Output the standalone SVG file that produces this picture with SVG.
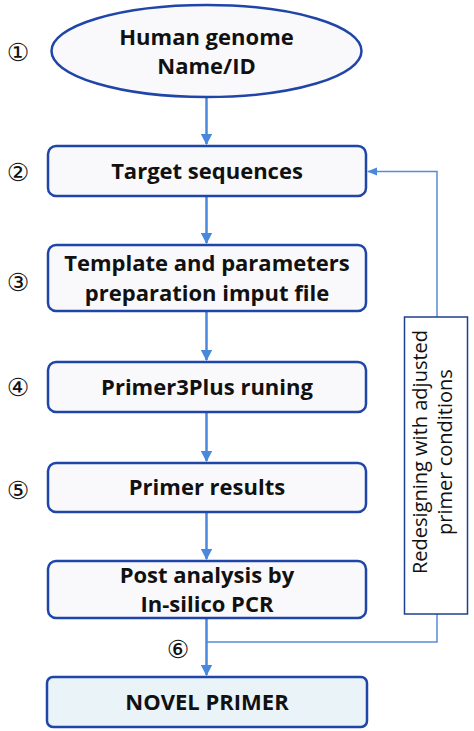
<svg xmlns="http://www.w3.org/2000/svg" width="474" height="731" viewBox="0 0 474 731">
<defs>
<style>
.box{fill:#f9f9fb;stroke:#1f45a8;stroke-width:2.5}
.lbl{font-family:"Open Sans","Noto Sans",sans-serif;font-weight:bold;font-size:22px;fill:#111;text-anchor:middle}
.num{font-family:"DejaVu Sans",sans-serif;font-size:25px;fill:#111;text-anchor:middle}
.arr{stroke:#4a88dd;stroke-width:2.5;fill:none}
.fb{stroke:#5a8ad8;stroke-width:1.5;fill:none}
.side{font-family:"Open Sans","Noto Sans",sans-serif;font-size:20px;fill:#111;text-anchor:middle}
</style>
<marker id="ah" viewBox="0 0 10 10" refX="9" refY="5" markerWidth="4.5" markerHeight="4.5" orient="auto">
<path d="M0,0 L10,5 L0,10 z" fill="#4a88dd"/>
</marker>
<marker id="ah2" viewBox="0 0 10 10" refX="9" refY="5" markerWidth="7" markerHeight="7" orient="auto">
<path d="M0,1 L10,5 L0,9 z" fill="#4a88dd"/>
</marker>
</defs>
<rect width="474" height="731" fill="#fff"/>
<g id="connectors">
<line class="arr" x1="206.5" y1="97" x2="206.5" y2="144" marker-end="url(#ah)"/>
<line class="arr" x1="206.5" y1="196" x2="206.5" y2="243" marker-end="url(#ah)"/>
<line class="arr" x1="206.5" y1="311" x2="206.5" y2="360" marker-end="url(#ah)"/>
<line class="arr" x1="206.5" y1="412" x2="206.5" y2="461" marker-end="url(#ah)"/>
<line class="arr" x1="206.5" y1="512" x2="206.5" y2="559" marker-end="url(#ah)"/>
<line class="arr" x1="206.5" y1="618" x2="206.5" y2="675" marker-end="url(#ah)"/>
<polyline class="fb" points="207,642 437,642 437,614"/>
<polyline class="fb" points="437,317 437,171.5 368,171.5" marker-end="url(#ah2)"/>
</g>
<g id="n1">
<ellipse cx="206.5" cy="51" rx="155" ry="46" class="box"/>
<text class="lbl" x="206.5" y="45">Human genome</text>
<text class="lbl" x="206.5" y="74">Name/ID</text>
</g>
<g id="n2">
<rect x="48" y="146" width="318" height="50" rx="8" class="box"/>
<text class="lbl" x="207" y="179">Target sequences</text>
</g>
<g id="n3">
<rect x="48" y="245" width="318" height="66" rx="8" class="box"/>
<text class="lbl" x="207" y="271">Template and parameters</text>
<text class="lbl" x="207" y="301">preparation imput file</text>
</g>
<g id="n4">
<rect x="48" y="362" width="318" height="50" rx="8" class="box"/>
<text class="lbl" x="207" y="395">Primer3Plus runing</text>
</g>
<g id="n5">
<rect x="48" y="463" width="318" height="49" rx="8" class="box"/>
<text class="lbl" x="207" y="495">Primer results</text>
</g>
<g id="n6">
<rect x="48" y="561" width="318" height="57" rx="8" class="box"/>
<text class="lbl" x="207" y="583">Post analysis by</text>
<text class="lbl" x="207" y="612">In-silico PCR</text>
</g>
<g id="n7">
<rect x="47" y="677" width="320" height="50" rx="6" fill="#e9f3f8" stroke="#1f45a8" stroke-width="2.5"/>
<text class="lbl" x="207" y="710">NOVEL PRIMER</text>
</g>
<g id="n8">
<rect x="404.5" y="317" width="63" height="297" fill="#fff" stroke="#1f3f8f" stroke-width="1.5"/>
<text class="side" transform="translate(427,452) rotate(-90)">Redesigning with adjusted</text>
<text class="side" transform="translate(452,452) rotate(-90)">primer conditions</text>
</g>
<g id="numbers">
<text class="num" x="18" y="61">①</text>
<text class="num" x="18" y="181">②</text>
<text class="num" x="18" y="291">③</text>
<text class="num" x="18" y="396">④</text>
<text class="num" x="18" y="499">⑤</text>
<text class="num" x="178" y="658">⑥</text>
</g>
</svg>
